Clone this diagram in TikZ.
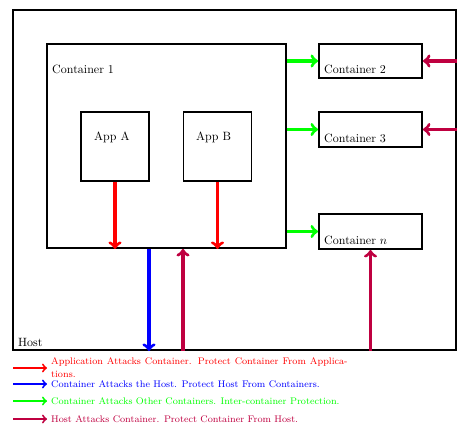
\documentclass[tikz,border=0pt]{standalone}
\usepackage{xcolor}
\usepackage{tikz}
\usetikzlibrary{arrows, positioning}

\begin{document}
\begin{tikzpicture}[x=0.8333pt, y=-0.8333pt]
\tikzstyle{box} = [rectangle, draw, line width=1.6pt, inner sep=0pt]
\tikzstyle{lab} = [anchor=base west, inner sep=0pt]
\tikzstyle{attack} = [->, line width=2.7pt]
\tikzstyle{legarrow} = [->, line width=1.6pt]
\tikzstyle{legtext} = [anchor=west, inner sep=3.3pt, font={\fontsize{8}{10.8}\selectfont}, text width=247pt, align=justify]

\useasboundingbox (0,0) rectangle (474,436);

% boxes
\node (host) [box, minimum width=369.2pt, minimum height=283.3pt] at (234.5,180) {};
\node (c1) [box, minimum width=199.2pt, minimum height=170pt] at (166.5,146) {};
\node (appa) [box, minimum width=56.7pt, minimum height=57.5pt] at (115,146.5) {};
\node (appb) [box, minimum width=56.7pt, minimum height=57.5pt] at (217.5,146.5) {};
\node (c2) [box, minimum width=85.8pt, minimum height=28.3pt] at (370.5,61) {};
\node (c3) [box, minimum width=85.8pt, minimum height=28.8pt] at (370.5,129.5) {};
\node (cn) [box, minimum width=85.8pt, minimum height=29.2pt] at (370.5,231.5) {};

% labels
\node (hostlab) [lab] at (18,346) {Host};
\node (c1lab) [lab] at (52,74) {Container 1};
\node (appalab) [lab] at (94,140) {App A};
\node (appblab) [lab] at (196,140) {App B};
\node (c2lab) [lab] at (324,74) {Container 2};
\node (c3lab) [lab] at (324,142) {Container 3};
\node (cnlab) [lab] at (324,244) {Container $n$};

% attacks
\draw [attack, red] (appa.south) -- (appa.south |- c1.south);
\draw [attack, red] (appb.south) -- (appb.south |- c1.south);
\draw [attack, green] (c1.east |- c2.west) -- (c2.west);
\draw [attack, green] (c1.east |- c3.west) -- (c3.west);
\draw [attack, green] (c1.east |- cn.west) -- (cn.west);
\draw [attack, purple] (host.east |- c2.east) -- (c2.east);
\draw [attack, purple] (host.east |- c3.east) -- (c3.east);
\coordinate (tohost) at (149,0);
\coordinate (fromhost) at (183,0);
\draw [attack, blue] (tohost |- c1.south) -- (tohost |- host.south);
\draw [attack, purple] (fromhost |- host.south) -- (fromhost |- c1.south);
\draw [attack, purple] (cn.south |- host.south) -- (cn.south);

% legend
\node (leg1) [legtext, text=red] at (47,368) {Application Attacks Container. Protect Container From Applications.};
\node (leg2) [legtext, text=blue] at (47,384) {Container Attacks the Host. Protect Host From Containers.};
\node (leg3) [legtext, text=green] at (47,401) {Container Attacks Other Containers. Inter-container Protection.};
\node (leg4) [legtext, text=purple] at (47,419) {Host Attacks Container. Protect Container From Host.};
\coordinate (leg1start) at (13,368);
\coordinate (leg2start) at (13,384);
\coordinate (leg3start) at (13,401);
\coordinate (leg4start) at (13,419);
\draw [legarrow, red] (leg1start) -- (leg1.west);
\draw [legarrow, blue] (leg2start) -- (leg2.west);
\draw [legarrow, green] (leg3start) -- (leg3.west);
\draw [legarrow, purple] (leg4start) -- (leg4.west);

\end{tikzpicture}
\end{document}
